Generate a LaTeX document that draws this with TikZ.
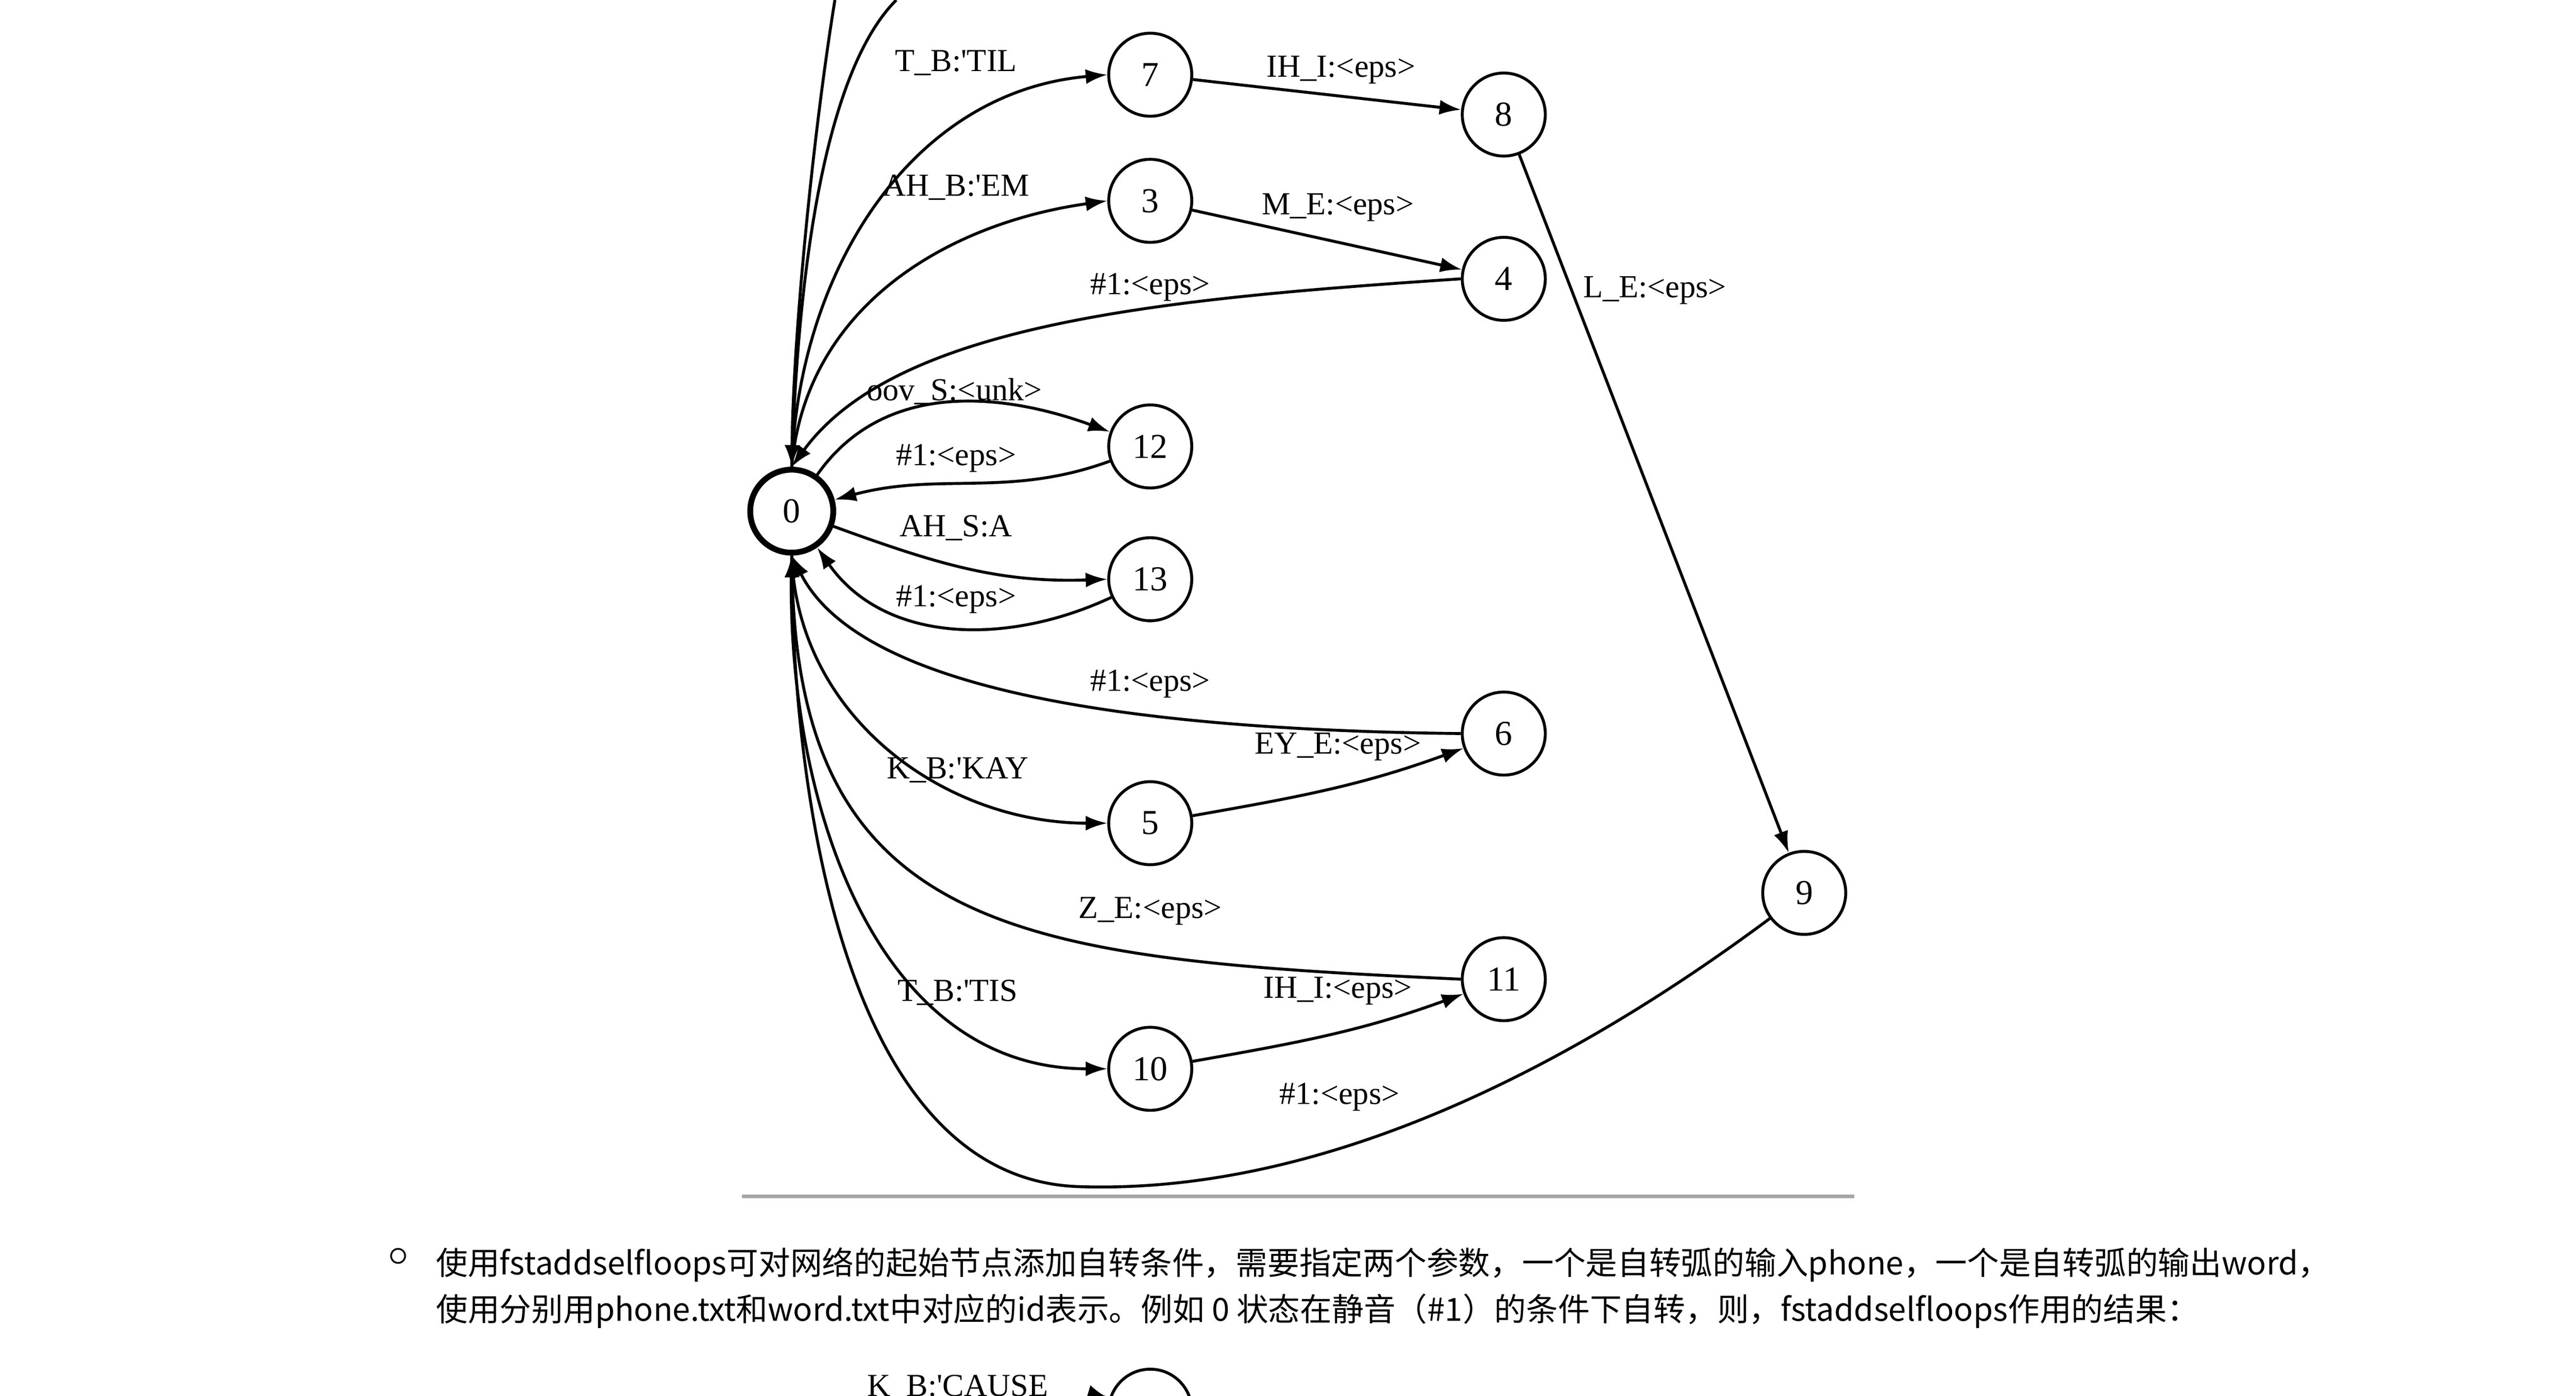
\documentclass[tikz,border=0pt]{standalone}
\usepackage{fontspec}
\setmainfont{Liberation Serif}
\newfontfamily\cjk{Noto Sans CJK SC}
\usetikzlibrary{arrows.meta}
\begin{document}
\begin{tikzpicture}[x=0.01cm,y=0.01cm,
  st/.style={circle,draw,line width=0.5pt,minimum size=0.5cm,inner sep=0pt,font=\fontsize{6}{7}\selectfont},
  lab/.style={font=\fontsize{5.5}{6.5}\selectfont,inner sep=0pt},
  ed/.style={line width=0.5pt,-{Latex[length=0.13cm,width=0.09cm]}}]
\useasboundingbox (0,0) rectangle (1552,-841);
\begin{scope}
\clip (0,0) rectangle (1552,-841);
\node[st,line width=1pt] (s0) at (477,-308) {0};
\node[st] (s7) at (693,-45) {7};
\node[st] (s8) at (906,-69) {8};
\node[st] (s3) at (693,-121) {3};
\node[st] (s4) at (906,-168) {4};
\node[st] (s12) at (693,-269) {12};
\node[st] (s13) at (693,-349) {13};
\node[st] (s6) at (906,-442) {6};
\node[st] (s5) at (693,-496) {5};
\node[st] (s9) at (1087,-538) {9};
\node[st] (s11) at (906,-590) {11};
\node[st] (s10) at (693,-644) {10};
\node[st] (s1) at (693,-850) {1};
\coordinate (u1) at (503,0);
\coordinate (u2) at (540,0);
\coordinate (u3) at (666,-842);

\draw[ed] (u1) .. controls (490,-80) and (478,-200) .. (s0.north);
\draw[ed] (u2) .. controls (490,-50) and (480,-200) .. (s0.north);
\draw[ed] (s0.north) to[out=88,in=185] (s7.west);
\draw[ed] (s7) -- (s8);
\draw[ed] (s0.north) to[out=85,in=188] (s3.west);
\draw[ed] (s3) -- (s4);
\draw[ed] (s4.west) .. controls (700,-180) and (540,-195) .. (s0.north);
\draw[ed] (s8) -- (s9);
\draw[ed] (s0) to[out=55,in=160] (s12);
\draw[ed] (s12) to[out=200,in=15] (s0);
\draw[ed] (s0) to[out=-20,in=182] (s13.west);
\draw[ed] (s13) to[out=205,in=-55] (s0);
\draw[ed] (s6.west) .. controls (700,-440) and (520,-420) .. (s0.south);
\draw[ed] (s0.south) to[out=-88,in=180] (s5.west);
\draw[ed] (s5) to[out=10,in=200] (s6);
\draw[ed] (s11.west) .. controls (620,-578) and (482,-565) .. (s0.south);
\draw[ed] (s0.south) to[out=-92,in=180] (s10.west);
\draw[ed] (s10) to[out=10,in=200] (s11);
\draw[ed] (s9) .. controls (950,-640) and (800,-720) .. (650,-715) .. controls (500,-710) and (478,-450) .. (s0.south);
\draw[ed] (u3) -- (s1);

\node[lab] at (576,-38) {T\_B:\textquotesingle TIL};
\node[lab] at (808,-42) {IH\_I:<eps>};
\node[lab] at (576,-113) {AH\_B:\textquotesingle EM};
\node[lab] at (806,-125) {M\_E:<eps>};
\node[lab] at (693,-173) {\#1:<eps>};
\node[lab] at (997,-175) {L\_E:<eps>};
\node[lab] at (575,-236) {oov\_S:<unk>};
\node[lab] at (576,-276) {\#1:<eps>};
\node[lab] at (576,-318) {AH\_S:A};
\node[lab] at (576,-361) {\#1:<eps>};
\node[lab] at (693,-412) {\#1:<eps>};
\node[lab] at (577,-464) {K\_B:\textquotesingle KAY};
\node[lab] at (806,-450) {EY\_E:<eps>};
\node[lab] at (693,-549) {Z\_E:<eps>};
\node[lab] at (577,-598) {T\_B:\textquotesingle TIS};
\node[lab] at (806,-597) {IH\_I:<eps>};
\node[lab] at (807,-661) {\#1:<eps>};
\node[lab] at (577,-836) {K\_B:\textquotesingle CAUSE};

\draw[gray!70,line width=0.6pt] (447,-721) -- (1117,-721);
\node[font=\fontsize{6}{7}\selectfont,inner sep=0pt] at (240,-757) {$\circ$};
\node[anchor=west,inner sep=0pt,font=\cjk\fontsize{5.45}{7}\selectfont] at (262,-762) {使用fstaddselfloops可对网络的起始节点添加自转条件，需要指定两个参数，一个是自转弧的输入phone，一个是自转弧的输出word，};
\node[anchor=west,inner sep=0pt,font=\cjk\fontsize{5.45}{7}\selectfont] at (262,-790) {使用分别用phone.txt和word.txt中对应的id表示。例如 0 状态在静音（\#1）的条件下自转，则，fstaddselfloops作用的结果：};
\end{scope}
\end{tikzpicture}
\end{document}
